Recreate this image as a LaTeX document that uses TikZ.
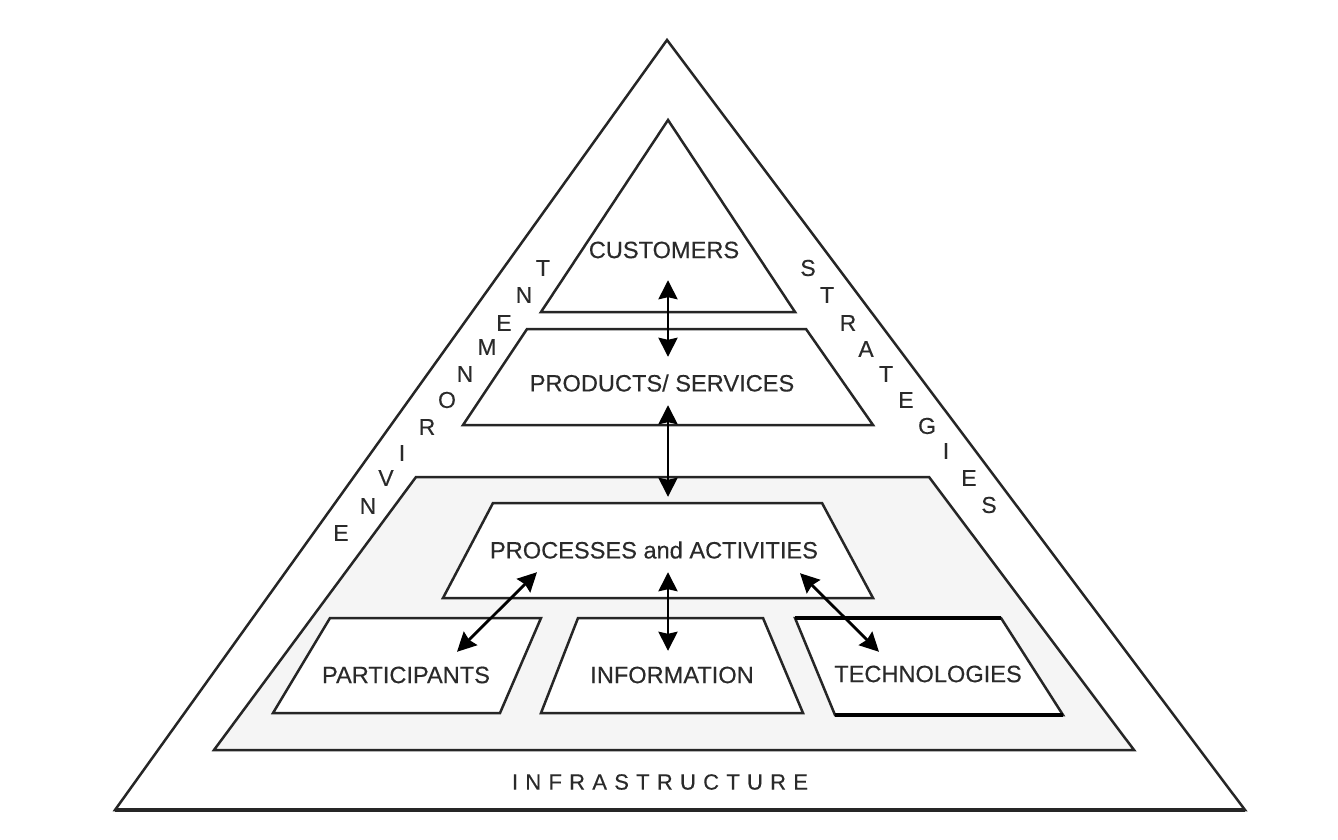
\documentclass[tikz,border=0pt]{standalone}
\usepackage{fontspec}
\setmainfont{Liberation Sans}
\newfontfamily\labelfont[FakeStretch=1,FakeBold=0.3,BoldFont={Liberation Sans}]{Liberation Sans}
\usetikzlibrary{arrows.meta,positioning}
\definecolor{inkgray}{HTML}{2A2A2A}
\definecolor{panelgray}{HTML}{F5F5F5}
\tikzset{
	frame/.style={draw=black!85,line width=2.5pt,line join=miter},
	label/.style={text=inkgray,font=\fontsize{23.6}{26}\labelfont,minimum height=50pt,inner sep=0pt},
	spaced/.style={text=inkgray,font=\fontsize{23}{24}\labelfont,inner sep=0pt},
	link/.style={<->,line width=2.8pt,black}
}
\begin{document}
\begin{tikzpicture}[x=1pt,y=-1pt,>={Stealth[length=19pt,width=19pt,inset=2pt]}]
		\useasboundingbox (0,0) rectangle (1338,840);

		% outer triangle and the shaded panel
		\draw[frame] (667,40) -- (1245,810) -- (115,810) -- cycle;
		\draw[black!85,line width=3.5pt] (115,810) -- (1245,810);
		\draw[frame,fill=panelgray] (416,477) -- (929,477) -- (1134,750) -- (214,750) -- cycle;

		% inner shapes
		\draw[frame] (668,120) -- (795,312) -- (541,312) -- cycle;
		\draw[frame] (527,329) -- (806,329) -- (873,425) -- (463,425) -- cycle;
		\draw[frame,fill=white] (493,503) -- (822,503) -- (873,598) -- (443,598) -- cycle;
		\draw[frame,fill=white] (330,618) -- (541,618) -- (500,713) -- (273,713) -- cycle;
		\draw[frame,fill=white] (578,618) -- (763,618) -- (803,713) -- (541,713) -- cycle;
		\draw[frame,fill=white] (795,618) -- (1001,618) -- (1063,715) -- (835,715) -- cycle;
		\draw[black,line width=3.5pt] (795,618) -- (1001,618) (835,715) -- (1063,715);

		\node[label] (customers) at (664,250) {CUSTOMERS};
		\node[label] (products) at (662,383) {PRODUCTS/ SERVICES};
		\node[label] (processes) at (654,550) {PROCESSES and ACTIVITIES};
		\node[label] (participants) at (406,675) {PARTICIPANTS};
		\node[label] (information) at (672,675) {INFORMATION};
		\node[label] (technologies) at (928,674) {TECHNOLOGIES};

		% side words, one letter at a time
		\foreach \ch/\px/\py [count=\i] in {E/341/533,N/368/506,V/386/478,I/402/453,R/427/427,O/447/400,N/465/374,M/487/347,E/504/323,N/524/295,T/543/268}
			\node[spaced] (env\i) at (\px,\py) {\ch};
		\foreach \ch/\px/\py [count=\i] in {S/808/268,T/827/295,R/848/323,A/866/349,T/886/374,E/906/400,G/927/426,I/946/451,E/969/478,S/989/505}
			\node[spaced] (str\i) at (\px,\py) {\ch};
		\node[spaced,font=\fontsize{22}{24}\labelfont\addfontfeature{LetterSpace=33}] (infra) at (660,782) {INFRASTRUCTURE};

		\path[link]
		([xshift=4pt,yshift=-5pt]customers.south) edge ([xshift=6pt,yshift=1pt]products.north)
		([xshift=6pt,yshift=3pt]products.south) edge ([xshift=14pt,yshift=28pt]processes.north)
		([xshift=14pt,yshift=3pt]processes.south) edge ([xshift=-4pt,yshift=-1pt]information.north)
		([xshift=-117pt,yshift=3pt]processes.south) edge ([xshift=51pt,yshift=-2pt]participants.north)
		([xshift=146pt,yshift=2pt]processes.south) edge ([xshift=-49pt,yshift=-3pt]technologies.north)
		;
	\end{tikzpicture}
\end{document}
